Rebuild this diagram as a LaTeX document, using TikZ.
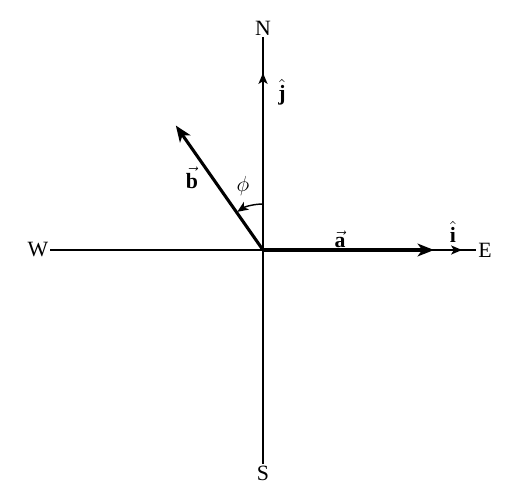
\documentclass[tikz,border=0pt]{standalone}
\usepackage{amsmath}
\usepackage{fontspec}
\setmainfont{Liberation Serif}
\usetikzlibrary{arrows.meta,positioning,calc}

\begin{document}
\begin{tikzpicture}[
    x=0.55pt, y=0.55pt,
    axis/.style={line width=0.8pt},
    vec/.style={line width=1.7pt, -{Stealth[length=9pt,width=7pt,inset=2.5pt]}},
    unit/.style={line width=0.8pt, -{Stealth[length=6pt,width=5pt,inset=1.5pt]}},
    lbl/.style={font=\large, inner sep=1pt}
]
\useasboundingbox (-263,-249) rectangle (257,250);

% compass points
\coordinate (O) at (0,0);
\node[lbl] (north) at (0,222) {N};
\node[lbl] (south) at (0,-223) {S};
\node[lbl] (west) at (-225,0) {W};
\node[lbl] (east) at (222,0) {E};

% axes
\draw[axis] (west) -- (east);
\draw[axis] (south) -- (north);

% unit vectors
\coordinate (itip) at (199,0);
\coordinate (jtip) at (0,177);
\draw[unit] (150,0) -- (itip);
\draw[unit] (0,140) -- (jtip);
\node[lbl] (ihat) at (190,18) {$\hat{\mathbf{i}}$};
\node[lbl] (jhat) at (19,158) {$\hat{\mathbf{j}}$};

% vectors a and b
\coordinate (atip) at (171,0);
\coordinate (btip) at (125:152);
\draw[vec] (O) -- (atip);
\draw[vec] (O) -- (btip);
\node[lbl] (alabel) at (77,11) {$\vec{\mathbf{a}}$};
\node[lbl] (blabel) at (-71,72) {$\vec{\mathbf{b}}$};

% angle phi
\draw[line width=0.8pt, -{Stealth[length=6pt,width=5pt,inset=1.5pt]}] (90:46) arc (90:124:46);
\node[lbl] (phi) at (-20,64) {$\phi$};

\end{tikzpicture}
\end{document}
